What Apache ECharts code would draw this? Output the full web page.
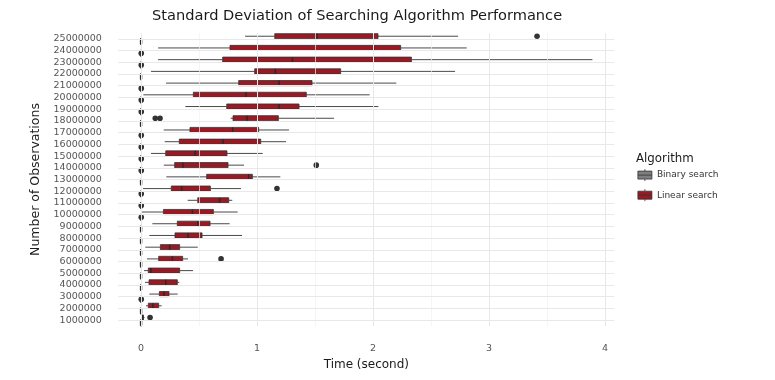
<!DOCTYPE html>
<html>
<head>
<meta charset="utf-8">
<script src="https://cdn.jsdelivr.net/npm/echarts@6/dist/echarts.min.js"></script>
<style>
html,body{margin:0;padding:0;background:#fff;}
#chart{width:775px;height:380px;}
</style>
</head>
<body>
<div id="chart"></div>
<script>
// ---- data ----
const categories = ['1000000','2000000','3000000','4000000','5000000','6000000','7000000','8000000','9000000','10000000','11000000','12000000','13000000','14000000','15000000','16000000','17000000','18000000','19000000','20000000','21000000','22000000','23000000','24000000','25000000'];

// Linear search: whisker low, Q1, median, Q3, whisker high (seconds)
const linearLow    = [0.005,0.043,0.072,0.034,0.026,0.052,0.037,0.072,0.098,0.003,0.402,0.017,0.218,0.196,0.086,0.204,0.196,0.773,0.382,0.020,0.216,0.086,0.147,0.147,0.897];
const linearQ1     = [0.010,0.063,0.158,0.069,0.063,0.152,0.167,0.293,0.313,0.193,0.489,0.261,0.566,0.290,0.213,0.330,0.422,0.793,0.739,0.451,0.842,0.980,0.704,0.767,1.153];
const linearMedian = [0.015,0.101,0.198,0.213,0.086,0.270,0.247,0.405,0.489,0.443,0.678,0.351,0.928,0.362,0.466,0.707,0.790,0.914,1.190,0.905,1.190,1.158,1.305,2.006,1.517];
const linearQ3     = [0.020,0.152,0.241,0.313,0.333,0.359,0.333,0.526,0.595,0.624,0.756,0.598,0.960,0.750,0.741,1.032,1.014,1.184,1.362,1.425,1.474,1.721,2.331,2.238,2.043];
const linearHigh   = [0.030,0.178,0.316,0.330,0.448,0.405,0.489,0.871,0.764,0.833,0.787,0.862,1.201,0.888,1.049,1.250,1.276,1.664,2.046,1.971,2.201,2.707,3.891,2.808,2.733];
const linearOutlierCats = ['1000000','6000000','12000000','14000000','18000000','18000000','25000000'];
const linearOutlierVals = [0.078,0.690,1.172,1.511,0.123,0.164,3.414];

// Binary search: whisker low, Q1, median, Q3, whisker high (seconds)
const binaryLow    = [0.0000,0.0000,0.0000,0.0000,0.0000,0.0000,0.0000,0.0000,0.0000,0.0000,0.0000,0.0000,0.0000,0.0000,0.0000,0.0000,0.0000,0.0000,0.0000,0.0000,0.0000,0.0000,0.0000,0.0000,0.0000];
const binaryQ1     = [0.0002,0.0002,0.0002,0.0002,0.0002,0.0002,0.0002,0.0002,0.0002,0.0002,0.0002,0.0002,0.0002,0.0002,0.0002,0.0002,0.0002,0.0002,0.0002,0.0002,0.0002,0.0002,0.0002,0.0002,0.0002];
const binaryMedian = [0.0004,0.0004,0.0004,0.0004,0.0004,0.0004,0.0004,0.0004,0.0004,0.0004,0.0004,0.0004,0.0004,0.0004,0.0004,0.0004,0.0004,0.0004,0.0004,0.0004,0.0004,0.0004,0.0004,0.0004,0.0004];
const binaryQ3     = [0.0006,0.0006,0.0006,0.0006,0.0006,0.0006,0.0006,0.0006,0.0006,0.0006,0.0006,0.0006,0.0006,0.0006,0.0006,0.0006,0.0006,0.0006,0.0006,0.0006,0.0006,0.0006,0.0006,0.0006,0.0006];
const binaryHigh   = [0.0010,0.0010,0.0010,0.0010,0.0010,0.0010,0.0010,0.0010,0.0010,0.0010,0.0010,0.0010,0.0010,0.0010,0.0010,0.0010,0.0010,0.0010,0.0010,0.0010,0.0010,0.0010,0.0010,0.0010,0.0010];
const binaryOutlierCats = ['3000000','10000000','11000000','12000000','14000000','15000000','16000000','17000000','19000000','20000000','21000000','23000000','24000000'];
const binaryOutlierVals = [0.002,0.002,0.002,0.002,0.002,0.002,0.002,0.002,0.002,0.002,0.002,0.002,0.002];

const xTicksMajor = [0,1,2,3,4];
const xTicksMinor = [0.5,1.5,2.5,3.5];

// ---- build ----
const LINEAR_COLOR = '#971a24';
const BINARY_COLOR = '#7f7f7f';
const FONT = 'DejaVu Sans';

function boxData(lo, q1, me, q3, hi) {
  return categories.map((c, i) => [i, lo[i], q1[i], me[i], q3[i], hi[i]]);
}
function outlierData(cats, vals) {
  return cats.map((c, i) => [categories.indexOf(c), vals[i]]);
}

function boxRender(offFrac, fill, boxStrokeW, medW) {
  return function (params, api) {
    const ci = api.value(0);
    const band = api.size([0, 1])[1];
    const yc = api.coord([0, ci])[1] + offFrac * band;
    const h = band * 0.44;
    const xl = api.coord([api.value(1), ci])[0];
    const x1 = api.coord([api.value(2), ci])[0];
    const xm = api.coord([api.value(3), ci])[0];
    const x3 = api.coord([api.value(4), ci])[0];
    const xh = api.coord([api.value(5), ci])[0];
    return {
      type: 'group',
      children: [
        {type: 'line', shape: {x1: xl, y1: yc, x2: x1, y2: yc}, style: {stroke: '#4a4a4a', lineWidth: 1}},
        {type: 'line', shape: {x1: x3, y1: yc, x2: xh, y2: yc}, style: {stroke: '#4a4a4a', lineWidth: 1}},
        {type: 'rect', shape: {x: x1, y: yc - h / 2, width: Math.max(x3 - x1, 0), height: h},
          style: {fill: fill, stroke: '#333', lineWidth: boxStrokeW}},
        {type: 'line', shape: {x1: xm, y1: yc - h / 2, x2: xm, y2: yc + h / 2}, style: {stroke: '#2a2a2a', lineWidth: medW}}
      ]
    };
  };
}
function pointRender(offFrac) {
  return function (params, api) {
    const ci = api.value(0);
    const band = api.size([0, 1])[1];
    const p = api.coord([api.value(1), ci]);
    return {type: 'circle', shape: {cx: p[0], cy: p[1] + offFrac * band, r: 2.8}, style: {fill: '#333'}};
  };
}

const chart = echarts.init(document.getElementById('chart'), null, {renderer: 'canvas'});

const gridMarks = []
  .concat(xTicksMinor.map(v => ({xAxis: v, lineStyle: {color: '#f0f0f0', width: 0.7, type: 'solid'}})))
  .concat(xTicksMajor.map(v => ({xAxis: v, lineStyle: {color: '#e8e8e8', width: 1, type: 'solid'}})))
  .concat(categories.map(c => ({yAxis: c, lineStyle: {color: '#e8e8e8', width: 1, type: 'solid'}})));

const legendIcon = 'path://M7,0 L7,2 M0,2 L14,2 L14,10 L0,10 Z M0,6 L14,6 M7,10 L7,12';

chart.setOption({
  animation: false,
  backgroundColor: '#fff',
  textStyle: {fontFamily: FONT},
  title: [
    {text: 'Standard Deviation of Searching Algorithm Performance', left: 152, top: 9, padding: 0,
      textStyle: {fontFamily: FONT, fontSize: 14.6, fontWeight: 'normal', color: '#1a1a1a'}},
    {text: 'Algorithm', left: 636, top: 153, padding: 0,
      textStyle: {fontFamily: FONT, fontSize: 11.8, fontWeight: 'normal', color: '#1a1a1a'}}
  ],
  legend: {
    orient: 'vertical', left: 637.5, top: 168.7, padding: 0, itemWidth: 14, itemHeight: 12, itemGap: 7.3,
    data: [{name: 'Binary search', icon: legendIcon}, {name: 'Linear search', icon: legendIcon}],
    itemStyle: {borderColor: '#333', borderWidth: 0.8},
    textStyle: {fontFamily: FONT, fontSize: 9, color: '#333'},
    selectedMode: false
  },
  grid: {left: 118.4, right: 160.7, top: 33, bottom: 54, containLabel: false},
  xAxis: {
    type: 'value', min: -0.195, max: 4.08,
    name: 'Time (second)', nameLocation: 'middle', nameGap: 31,
    nameTextStyle: {fontFamily: FONT, fontSize: 12, color: '#1a1a1a'},
    axisLine: {show: false}, axisTick: {show: false}, splitLine: {show: false},
    axisLabel: {showMinLabel: false, showMaxLabel: false, margin: 17.5, fontFamily: FONT, fontSize: 9.5, color: '#555',
      formatter: v => (Math.abs(v - Math.round(v)) < 1e-9 ? String(Math.round(v)) : '')}
  },
  yAxis: {
    type: 'category', data: categories, boundaryGap: true,
    name: 'Number of Observations', nameLocation: 'middle', nameGap: 73, nameRotate: 90,
    nameTextStyle: {fontFamily: FONT, fontSize: 12.5, color: '#1a1a1a'},
    axisLine: {show: false}, axisTick: {show: false}, splitLine: {show: false},
    axisLabel: {margin: 16.5, fontFamily: FONT, fontSize: 9.5, color: '#555', interval: 0}
  },
  series: [
    {
      name: 'grid', type: 'line', data: [], z: 0, silent: true,
      markLine: {silent: true, symbol: 'none', label: {show: false}, animation: false, data: gridMarks}
    },
    {
      name: 'Binary search', type: 'custom', z: 2, itemStyle: {color: BINARY_COLOR},
      encode: {y: 0, x: [1, 2, 3, 4, 5]},
      renderItem: boxRender(0.225, BINARY_COLOR, 1.8, 2.4),
      data: boxData(binaryLow, binaryQ1, binaryMedian, binaryQ3, binaryHigh)
    },
    {
      name: 'Linear search', type: 'custom', z: 2, itemStyle: {color: LINEAR_COLOR},
      encode: {y: 0, x: [1, 2, 3, 4, 5]},
      renderItem: boxRender(-0.225, LINEAR_COLOR, 0.8, 1.5),
      data: boxData(linearLow, linearQ1, linearMedian, linearQ3, linearHigh)
    },
    {
      name: 'Binary outliers', type: 'custom', z: 3,
      encode: {y: 0, x: 1},
      renderItem: pointRender(0.225),
      data: outlierData(binaryOutlierCats, binaryOutlierVals)
    },
    {
      name: 'Linear outliers', type: 'custom', z: 3,
      encode: {y: 0, x: 1},
      renderItem: pointRender(-0.225),
      data: outlierData(linearOutlierCats, linearOutlierVals)
    }
  ]
});
</script>
</body>
</html>
